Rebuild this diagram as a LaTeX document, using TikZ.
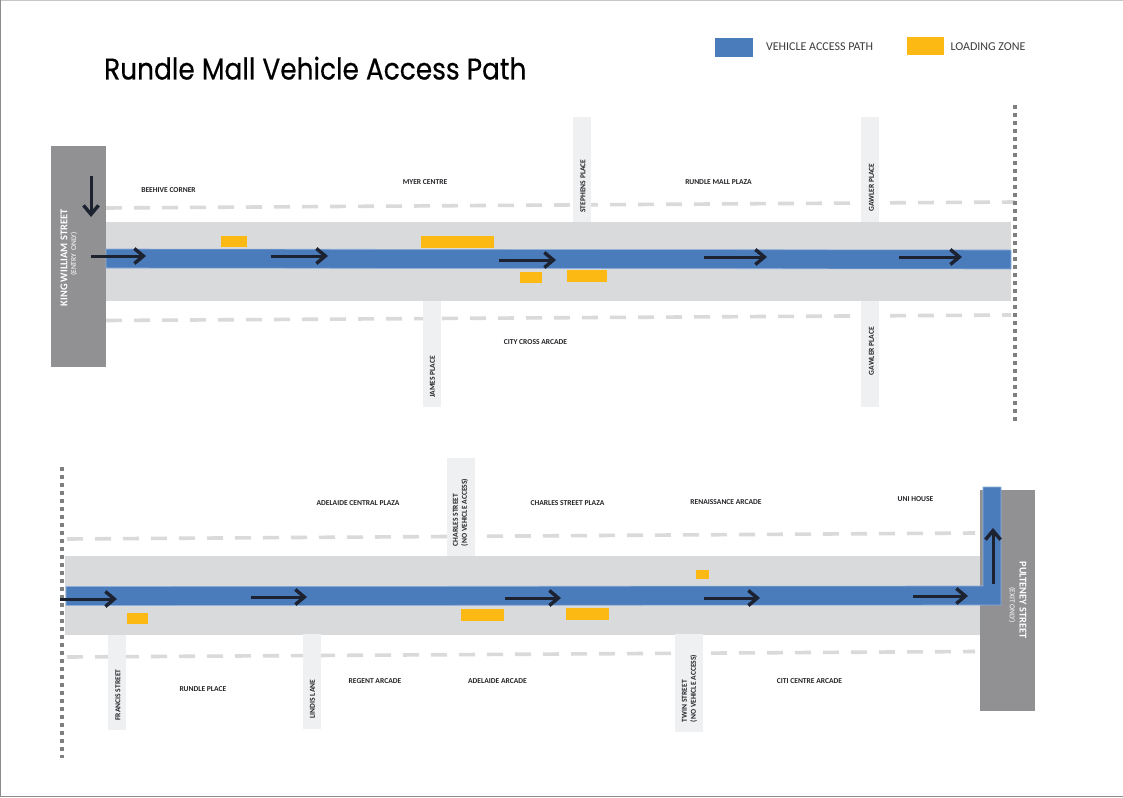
\documentclass[tikz,border=0pt]{standalone}
\usepackage{fontspec}
\setmainfont{Carlito}
\newfontfamily\titlefont[FakeBold=0.5]{Poppins}
\usetikzlibrary{arrows.meta}
\definecolor{roadgrey}{HTML}{D9DADC}
\definecolor{sidegrey}{HTML}{EFF0F2}
\definecolor{boxgrey}{HTML}{919194}
\definecolor{pathblue}{HTML}{4A7BBA}
\definecolor{pathedge}{HTML}{8FAEDA}
\definecolor{zoneyellow}{HTML}{FDB913}
\definecolor{dashgrey}{HTML}{DADADA}
\definecolor{dotgrey}{HTML}{808080}
\definecolor{arrowink}{HTML}{1C2230}
\definecolor{labelink}{HTML}{26262A}
\tikzset{
  x=1pt,y=-1pt,
  road/.style={fill=roadgrey,draw=none},
  side/.style={fill=sidegrey,draw=none},
  streetbox/.style={fill=boxgrey,draw=none},
  pathbar/.style={fill=pathblue,draw=pathedge,line width=0.6pt},
  zone/.style={fill=zoneyellow,draw=none},
  kerb/.style={draw=dashgrey,line width=3.6pt,dash pattern=on 16pt off 12pt},
  limit/.style={draw=dotgrey,line width=4pt,dash pattern=on 4pt off 4pt},
  flow/.style={draw=arrowink,line width=3pt,-{Straight Barb[length=9pt,width=15pt,line width=3.4pt]}},
  place/.style={font=\bfseries\fontsize{7.55}{9}\selectfont,text=labelink,inner sep=0pt,align=center},
  lane/.style={place,rotate=90,align=left},
  bigstreet/.style={font=\fontsize{10.35}{11}\selectfont\bfseries,text=white,inner sep=0pt},
  smallstreet/.style={font=\fontsize{7.5}{8}\selectfont,text=white,inner sep=0pt},
  legendtext/.style={font=\fontsize{12}{13}\selectfont,text=labelink!90,inner sep=0pt},
}
\begin{document}
\begin{tikzpicture}
\useasboundingbox (0,0) rectangle (1123,797);
\fill[white] (0,0) rectangle (1123,797);
% page edges
\fill[black!22] (0,0) rectangle (1123,1);
\fill[black!45] (0,0) rectangle (1,797);
\fill[black!45] (0,795.5) rectangle (1123,797);

% title and legend
\node[anchor=base west,inner sep=0pt,font=\titlefont\fontsize{30}{33}\selectfont,text=black] (title) at (104,79.5) {\scalebox{0.88}[1]{Rundle Mall Vehicle Access Path}};
\fill[pathblue] (715,38) rectangle (753,57);
\fill[zoneyellow] (907,37) rectangle (944,55);
\node[legendtext] (legA) at (819.5,46.5) {VEHICLE ACCESS PATH};
\node[legendtext] (legB) at (988,46.5) {LOADING ZONE};

% ---- upper block
\path[kerb] (106,208) -- (1015,202);
\path[kerb] (106,320.5) -- (1011,315);
\fill[road] (106,222) rectangle (1011,301);
\fill[side] (573,117) rectangle (591,222);
\fill[side] (861,117) rectangle (879,222);
\fill[side] (423,301) rectangle (441,407);
\fill[side] (861,301) rectangle (879,407);
\fill[streetbox] (51,146) rectangle (106,367);
\path[pathbar] (106,249) -- (1011,250) -- (1011,269) -- (106,268) -- cycle;
\path[limit] (1015,105) -- (1015,422);
\fill[zone] (221,236) rectangle (247,247);
\fill[zone] (421,235.5) rectangle (494,247.5);
\fill[zone] (520,271.5) rectangle (542,283);
\fill[zone] (567,270) rectangle (607,281.5);

\coordinate (a1s) at (91,256);  \coordinate (a1e) at (146,256);
\coordinate (a2s) at (271,256); \coordinate (a2e) at (328,256);
\coordinate (a3s) at (499,260); \coordinate (a3e) at (556,260);
\coordinate (a4s) at (704,257); \coordinate (a4e) at (767,257);
\coordinate (a5s) at (899,257); \coordinate (a5e) at (962,257);
\coordinate (a6s) at (91,176);  \coordinate (a6e) at (91,217);
\foreach \n in {1,...,6} \draw[flow] (a\n s) -- (a\n e);

\node[bigstreet,rotate=90] (kw) at (64,258) {KING WILLIAM STREET};
\node[smallstreet,rotate=90] (kwb) at (74,254) {(ENTRY\ \ ONLY)};
\node[place] (n1) at (168.5,189.7) {BEEHIVE CORNER};
\node[place] (n2) at (425,181.7) {MYER CENTRE};
\node[place] (n3) at (718.5,181.7) {RUNDLE MALL PLAZA};
\node[place] (n4) at (535.5,341.7) {CITY CROSS ARCADE};
\node[lane] (n5) at (583,186) {STEPHENS PLACE};
\node[lane] (n6) at (871.5,187.5) {GAWLER PLACE};
\node[lane] (n7) at (871.5,351) {GAWLER PLACE};
\node[lane] (n8) at (432.5,377) {JAMES PLACE};

% ---- lower block
\path[kerb] (67,539) -- (975,533);
\path[kerb] (67,657) -- (975,651.5);
\fill[road] (65,556) rectangle (980,635);
\fill[side] (447,458) rectangle (475,556);
\fill[side] (675,634) rectangle (703,732);
\fill[side] (108,635) rectangle (126,730);
\fill[side] (303,634) rectangle (321,729);
\fill[streetbox] (980,490) rectangle (1035,711);
\path[limit] (62,467) -- (62,758);
\path[pathbar] (66,586.5) -- (983,586) -- (983,487) -- (1001,487) -- (1001,605) -- (66,605.5) -- cycle;
\fill[zone] (126.5,612.5) rectangle (148,624);
\fill[zone] (461,609) rectangle (504,621);
\fill[zone] (565.5,608) rectangle (609,619.5);
\fill[zone] (695.5,569.5) rectangle (709,579);

\coordinate (b1s) at (60,599);  \coordinate (b1e) at (117,599);
\coordinate (b2s) at (251,597); \coordinate (b2e) at (307,597);
\coordinate (b3s) at (505,598); \coordinate (b3e) at (561,598);
\coordinate (b4s) at (704,598); \coordinate (b4e) at (760,598);
\coordinate (b5s) at (913,596); \coordinate (b5e) at (968,596);
\coordinate (b6s) at (993,584); \coordinate (b6e) at (993,528);
\foreach \n in {1,...,6} \draw[flow] (b\n s) -- (b\n e);

\node[bigstreet,rotate=-90] (pu) at (1023,600) {PULTENEY STREET};
\node[smallstreet,rotate=-90] (pub) at (1012,605) {(EXIT ONLY)};
\node[place] (m1) at (358,502.7) {ADELAIDE CENTRAL PLAZA};
\node[place] (m2) at (567.5,503.2) {CHARLES STREET PLAZA};
\node[place] (m3) at (726,502.2) {RENAISSANCE ARCADE};
\node[place] (m4) at (915.5,498.7) {UNI HOUSE};
\node[place] (m5) at (375,681.2) {REGENT ARCADE};
\node[place] (m6) at (497.5,681.2) {ADELAIDE ARCADE};
\node[place] (m7) at (809.5,681.2) {CITI CENTRE ARCADE};
\node[place] (m8) at (203,689.2) {RUNDLE PLACE};
\node[lane] (m9) at (118,695) {FRANCIS STREET};
\node[lane] (m10) at (312.5,699) {LINDIS LANE};
\node[lane] (m11) at (460.5,512.5) {CHARLES STREET\\(NO VEHICLE ACCESS)};
\node[lane] (m12) at (689.5,688.5) {TWIN STREET\\(NO VEHICLE ACCESS)};
\end{tikzpicture}
\end{document}
